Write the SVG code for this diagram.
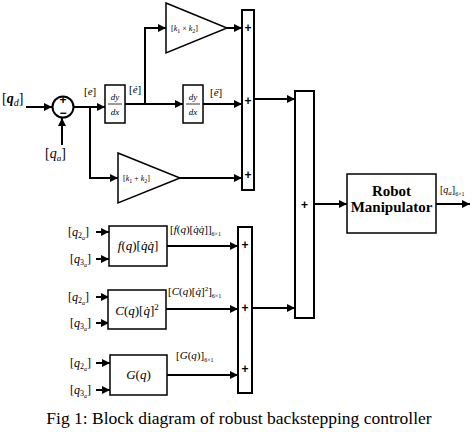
<svg xmlns="http://www.w3.org/2000/svg" width="474" height="432" viewBox="0 0 474 432">
<defs>
<marker id="ah" markerWidth="8" markerHeight="8" refX="8" refY="4" orient="auto" markerUnits="userSpaceOnUse">
<path d="M0,0 L8,4 L0,8 Z" fill="#000"/>
</marker>
</defs>
<style>
.ln{stroke:#000;stroke-width:2;fill:none}
.bx{stroke:#000;stroke-width:1.5;fill:#fff}
.bar{stroke:#000;stroke-width:2;fill:#fff}
.m{font-family:"Liberation Serif","DejaVu Serif",serif;font-style:italic;fill:#000}
.s{font-family:"Liberation Serif","DejaVu Serif",serif;fill:#000}
.pl{font-family:"Liberation Sans",Arial,sans-serif;font-weight:bold;font-size:12px;fill:#000}
.rb{font-family:"Liberation Serif","Times New Roman",serif;font-weight:bold;font-size:15px;fill:#000}
</style>
<rect width="474" height="432" fill="#fff"/>
<g id="connectors">
<line class="ln" x1="26" y1="107" x2="52" y2="107" marker-end="url(#ah)"/>
<line class="ln" x1="62" y1="145" x2="62" y2="118" marker-end="url(#ah)"/>
<line class="ln" x1="73" y1="107" x2="105" y2="107" marker-end="url(#ah)"/>
<polyline class="ln" points="90,107 90,178 118,178" marker-end="url(#ah)"/>
<line class="ln" x1="125" y1="104" x2="183" y2="104" marker-end="url(#ah)"/>
<polyline class="ln" points="145,104 145,28 166,28" marker-end="url(#ah)"/>
<line class="ln" x1="203" y1="104" x2="242" y2="104" marker-end="url(#ah)"/>
<line class="ln" x1="227" y1="28" x2="242" y2="28" marker-end="url(#ah)"/>
<line class="ln" x1="180" y1="178" x2="242" y2="178" marker-end="url(#ah)"/>
<line class="ln" x1="254" y1="99" x2="295" y2="99" marker-end="url(#ah)"/>
<line class="ln" x1="314" y1="204" x2="347" y2="204" marker-end="url(#ah)"/>
<line class="ln" x1="436" y1="204" x2="470" y2="204" marker-end="url(#ah)"/>
<line class="ln" x1="96" y1="232" x2="109" y2="232" marker-end="url(#ah)"/>
<line class="ln" x1="96" y1="259" x2="109" y2="259" marker-end="url(#ah)"/>
<line class="ln" x1="96" y1="297" x2="109" y2="297" marker-end="url(#ah)"/>
<line class="ln" x1="96" y1="323" x2="109" y2="323" marker-end="url(#ah)"/>
<line class="ln" x1="96" y1="363" x2="110" y2="363" marker-end="url(#ah)"/>
<line class="ln" x1="96" y1="390" x2="110" y2="390" marker-end="url(#ah)"/>
<line class="ln" x1="167" y1="246" x2="238" y2="246" marker-end="url(#ah)"/>
<line class="ln" x1="166" y1="309" x2="238" y2="309" marker-end="url(#ah)"/>
<line class="ln" x1="167" y1="375" x2="238" y2="375" marker-end="url(#ah)"/>
<line class="ln" x1="252" y1="308" x2="295" y2="308" marker-end="url(#ah)"/>
</g>
<g id="qd"><text class="s" x="2" y="103" font-size="14">[<tspan class="m" font-weight="bold">q</tspan><tspan class="m" font-size="10" dy="3">d</tspan><tspan dy="-3">]</tspan></text></g>
<g id="sum">
<circle cx="63" cy="107" r="10.5" fill="#fff" stroke="#000" stroke-width="2"/>
<text class="pl" x="63" y="104" text-anchor="middle" font-size="8">+</text>
<text class="pl" x="63" y="117" text-anchor="middle" font-size="8">−</text>
</g>
<g id="qa"><text class="s" x="45" y="158" font-size="14">[<tspan class="m">q</tspan><tspan class="m" font-size="9" dy="3">a</tspan><tspan dy="-3">]</tspan></text></g>
<g id="e-label"><text class="s" x="84" y="95" font-size="11">[<tspan class="m">e</tspan>]</text></g>
<g id="deriv1">
<rect class="bx" x="105" y="85" width="20" height="38"/>
<text class="m" x="115" y="100" font-size="9" text-anchor="middle">dy</text>
<line x1="108" y1="104" x2="122" y2="104" stroke="#000" stroke-width="0.8"/>
<text class="m" x="115" y="115" font-size="9" text-anchor="middle">dx</text>
</g>
<g id="edot-label"><text class="s" x="129" y="93" font-size="11">[<tspan class="m">ė</tspan>]</text></g>
<g id="deriv2">
<rect class="bx" x="183" y="85" width="20" height="38"/>
<text class="m" x="193" y="100" font-size="9" text-anchor="middle">dy</text>
<line x1="186" y1="104" x2="200" y2="104" stroke="#000" stroke-width="0.8"/>
<text class="m" x="193" y="115" font-size="9" text-anchor="middle">dx</text>
</g>
<g id="eddot-label"><text class="s" x="210" y="96" font-size="11">[<tspan class="m">ë</tspan>]</text></g>
<g id="gain-mul">
<polygon points="166,3 227,28 166,53" fill="#fff" stroke="#000" stroke-width="1.5"/>
<text class="s" x="171" y="31" font-size="8">[<tspan class="m">k</tspan><tspan font-size="6" dy="2">1</tspan><tspan dy="-2"> × </tspan><tspan class="m">k</tspan><tspan font-size="6" dy="2">2</tspan><tspan dy="-2">]</tspan></text>
</g>
<g id="gain-add">
<polygon points="118,153 180,178 118,203" fill="#fff" stroke="#000" stroke-width="1.5"/>
<text class="s" x="123" y="181" font-size="8">[<tspan class="m">k</tspan><tspan font-size="6" dy="2">1</tspan><tspan dy="-2"> + </tspan><tspan class="m">k</tspan><tspan font-size="6" dy="2">2</tspan><tspan dy="-2">]</tspan></text>
</g>
<g id="sum1">
<rect class="bar" x="242" y="10" width="12" height="180"/>
<text class="pl" x="248" y="32" text-anchor="middle">+</text>
<text class="pl" x="248" y="105" text-anchor="middle">+</text>
<text class="pl" x="248" y="179" text-anchor="middle">+</text>
</g>
<g id="sum2">
<rect class="bar" x="295" y="91" width="19" height="227"/>
<text class="pl" x="304.5" y="209" text-anchor="middle">+</text>
</g>
<g id="robot">
<rect class="bx" x="347" y="174" width="89" height="59"/>
<text class="rb" x="391.5" y="196" text-anchor="middle" font-family="Liberation Serif, serif">Robot</text>
<text class="rb" x="391.5" y="212" text-anchor="middle" font-family="Liberation Serif, serif">Manipulator</text>
</g>
<g id="qa-out"><text class="s" x="440" y="193" font-size="10">[<tspan class="m">q</tspan><tspan class="m" font-size="7" dy="2">a</tspan><tspan dy="-2">]</tspan><tspan font-size="6" dy="3">6×1</tspan></text></g>
<g id="sum3">
<rect class="bar" x="238" y="227" width="14" height="166"/>
<text class="pl" x="245" y="249" text-anchor="middle">+</text>
<text class="pl" x="245" y="312" text-anchor="middle">+</text>
<text class="pl" x="245" y="373" text-anchor="middle">+</text>
</g>
<g id="inputs">
<text class="s" x="68" y="236" font-size="12">[<tspan class="m">q</tspan><tspan font-size="8" dy="2">2</tspan><tspan class="m" font-size="6" dy="2">a</tspan><tspan dy="-4">]</tspan></text>
<text class="s" x="70" y="263" font-size="12">[<tspan class="m">q</tspan><tspan font-size="8" dy="2">3</tspan><tspan class="m" font-size="6" dy="2">a</tspan><tspan dy="-4">]</tspan></text>
<text class="s" x="68" y="301" font-size="12">[<tspan class="m">q</tspan><tspan font-size="8" dy="2">2</tspan><tspan class="m" font-size="6" dy="2">a</tspan><tspan dy="-4">]</tspan></text>
<text class="s" x="70" y="327" font-size="12">[<tspan class="m">q</tspan><tspan font-size="8" dy="2">3</tspan><tspan class="m" font-size="6" dy="2">a</tspan><tspan dy="-4">]</tspan></text>
<text class="s" x="70" y="367" font-size="12">[<tspan class="m">q</tspan><tspan font-size="8" dy="2">2</tspan><tspan class="m" font-size="6" dy="2">a</tspan><tspan dy="-4">]</tspan></text>
<text class="s" x="70" y="394" font-size="12">[<tspan class="m">q</tspan><tspan font-size="8" dy="2">3</tspan><tspan class="m" font-size="6" dy="2">a</tspan><tspan dy="-4">]</tspan></text>
</g>
<g id="fq">
<rect class="bx" x="109" y="226" width="58" height="40"/>
<text class="m" x="138" y="250" font-size="13" text-anchor="middle">f<tspan font-style="normal">(</tspan>q<tspan font-style="normal">)[</tspan>q̇q̇<tspan font-style="normal">]</tspan></text>
<text class="s" x="170" y="233" font-size="11">[<tspan class="m">f</tspan>(<tspan class="m">q</tspan>)[<tspan class="m">q̇q̇</tspan>]]<tspan font-size="6" dy="3">6×1</tspan></text>
</g>
<g id="cq">
<rect class="bx" x="108" y="290" width="58" height="39"/>
<text class="m" x="137" y="315" font-size="13" text-anchor="middle">C<tspan font-style="normal">(</tspan>q<tspan font-style="normal">)[</tspan>q̇<tspan font-style="normal">]</tspan><tspan font-style="normal" font-size="9" dy="-5">2</tspan></text>
<text class="s" x="168" y="295" font-size="11">[<tspan class="m">C</tspan>(<tspan class="m">q</tspan>)[<tspan class="m">q̇</tspan>]<tspan font-size="7" dy="-4">2</tspan><tspan dy="4">]</tspan><tspan font-size="6" dy="3">6×1</tspan></text>
</g>
<g id="gq">
<rect class="bx" x="110" y="355" width="57" height="40"/>
<text class="m" x="138.5" y="379" font-size="13" text-anchor="middle">G<tspan font-style="normal">(</tspan>q<tspan font-style="normal">)</tspan></text>
<text class="s" x="176" y="359" font-size="11">[<tspan class="m">G</tspan>(<tspan class="m">q</tspan>)]<tspan font-size="6" dy="3">6×1</tspan></text>
</g>
<g id="caption"><text class="s" x="239" y="424" font-size="17.5" text-anchor="middle">Fig 1: Block diagram of robust backstepping controller</text></g>
</svg>
